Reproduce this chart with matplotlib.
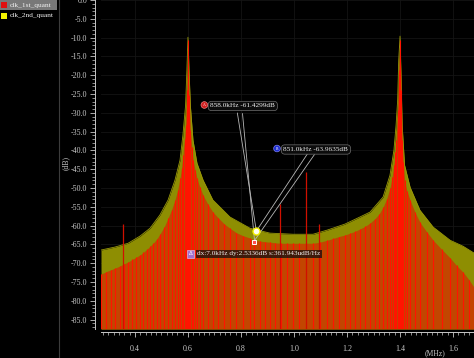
import matplotlib
matplotlib.use('Agg')
import matplotlib.pyplot as plt
from matplotlib.patches import Rectangle
from matplotlib.lines import Line2D
from matplotlib.ticker import MultipleLocator, FuncFormatter

plt.rcParams['axes.unicode_minus'] = False
FONT = 'Liberation Serif'

# ---------------- data ----------------
series_names = ['clk_1st_quant', 'clk_2nd_quant']
series_colors = ['#e01010', '#f2f200']

# clk_2nd_quant spectrum envelope (MHz, dB)
yel_f = [0.272, 0.325, 0.374, 0.419, 0.457, 0.494, 0.525, 0.551, 0.570, 0.581,
         0.591, 0.596, 0.600, 0.604, 0.609, 0.619, 0.634, 0.657, 0.694, 0.758,
         0.834, 0.909, 0.996, 1.072, 1.125, 1.192, 1.249, 1.287, 1.336, 1.362,
         1.377, 1.385, 1.391, 1.395, 1.400, 1.404, 1.408, 1.417, 1.438, 1.475,
         1.525, 1.589, 1.638, 1.679]
yel_db = [-66.5, -65.7, -64.7, -62.8, -60.7, -57.2, -53.2, -47.9, -42.6, -35.9,
          -28.0, -18.6, -9.9, -18.6, -28.0, -37.3, -43.4, -47.9, -53.2, -57.7,
          -60.7, -62.0, -62.3, -62.3, -61.2, -59.6, -57.7, -56.4, -52.4, -46.6,
          -39.9, -33.3, -26.6, -16.0, -9.6, -21.3, -33.3, -43.9, -49.8, -55.9,
          -60.4, -63.9, -65.5, -67.3]

# clk_1st_quant spectrum bins (MHz, dB)
red_f = [0.272, 0.290, 0.308, 0.325, 0.342, 0.358, 0.374, 0.390, 0.405, 0.419,
         0.432, 0.445, 0.457, 0.470, 0.482, 0.494, 0.510, 0.525, 0.538, 0.551,
         0.561, 0.570, 0.576, 0.581, 0.587, 0.591, 0.596, 0.600, 0.604, 0.609,
         0.614, 0.619, 0.627, 0.634, 0.645, 0.657, 0.675, 0.694, 0.715, 0.736,
         0.758, 0.783, 0.808, 0.834, 0.851, 0.870, 0.890, 0.909, 0.930, 0.952,
         0.974, 0.996, 1.020, 1.046, 1.072, 1.098, 1.125, 1.148, 1.170, 1.192,
         1.212, 1.231, 1.249, 1.268, 1.287, 1.305, 1.322, 1.336, 1.350, 1.362,
         1.370, 1.377, 1.382, 1.385, 1.391, 1.395, 1.400, 1.404, 1.408, 1.412,
         1.417, 1.426, 1.438, 1.456, 1.475, 1.500, 1.525, 1.557, 1.589, 1.613,
         1.638, 1.660, 1.679]
red_db = [-72.9, -72.3, -71.8, -71.3, -70.8, -70.2, -69.7, -69.0, -68.4, -67.8,
          -67.1, -66.3, -65.5, -64.6, -63.6, -62.3, -60.4, -58.0, -55.8, -53.2,
          -50.6, -47.4, -44.6, -41.3, -37.0, -33.3, -24.0, -10.7, -25.3, -34.6,
          -39.0, -42.6, -45.2, -47.4, -49.8, -51.9, -54.3, -56.4, -58.0, -59.5,
          -60.7, -61.9, -62.7, -63.3, -63.9, -64.1, -64.3, -64.4, -64.6, -64.7,
          -64.7, -64.7, -64.7, -64.7, -64.7, -64.4, -63.9, -63.4, -62.9, -62.5,
          -62.0, -61.5, -60.9, -60.2, -59.3, -58.2, -56.8, -55.1, -52.8, -50.0,
          -47.2, -43.9, -40.5, -37.3, -29.3, -18.6, -10.7, -24.0, -37.3, -43.0,
          -47.9, -50.8, -53.2, -56.4, -59.1, -61.6, -63.9, -66.3, -68.6, -70.6,
          -72.4, -74.4, -76.4]

# isolated spurs of clk_1st_quant
spur_f = [0.354, 0.947, 1.045, 1.094]
spur_db = [-59.6, -54.3, -45.8, -59.6]

# markers (MHz, dB)
marker_a = (0.858, -61.4299)
marker_b = (0.851, -63.9635)

x_range = (0.272, 1.679)
y_range = (-87.5, 0.0)

# ---------------- figure ----------------
W, H = 474, 358
fig = plt.figure(figsize=(W / 100, H / 100), dpi=100, facecolor='black')
ax = fig.add_axes([101 / W, 29 / H, (W - 101) / W, (H - 29) / H])
ax.set_facecolor('black')
ax.set_xlim(*x_range)
ax.set_ylim(*y_range)
ybot = y_range[0]

ax.grid(True, which='major', color='#141414', lw=0.6, zorder=0)
ax.set_axisbelow(True)

ax.fill_between(yel_f, ybot, yel_db, color='#8e8e02', lw=0, zorder=2)
ax.plot(yel_f, yel_db, color='#9a9a08', lw=0.6, zorder=2)
ax.fill_between(red_f, ybot, red_db, color='#c24600', lw=0, zorder=3)
ax.vlines(red_f, ybot, red_db, color='#ff1400', lw=0.8, zorder=4)
ax.vlines(spur_f, ybot, spur_db, color='#d01000', lw=0.9, zorder=4)

# axes styling
for s in ['top', 'right']:
    ax.spines[s].set_visible(False)
ax.spines['left'].set_position(('outward', 4.5))
ax.spines['bottom'].set_position(('outward', 2.2))
for s in ['left', 'bottom']:
    ax.spines[s].set_color('#c8c8c8')
    ax.spines[s].set_linewidth(0.7)

ax.xaxis.set_major_locator(MultipleLocator(0.2))
ax.xaxis.set_minor_locator(MultipleLocator(0.02))
ax.yaxis.set_major_locator(MultipleLocator(5))
ax.yaxis.set_minor_locator(MultipleLocator(1))
fmt = FuncFormatter(lambda v, p: f'{v:.1f}')
ax.xaxis.set_major_formatter(fmt)
ax.yaxis.set_major_formatter(fmt)
ax.tick_params(which='major', length=3.5, width=0.6, colors='#c8c8c8',
               labelsize=5.8, pad=2)
ax.tick_params(which='minor', length=2, width=0.5, colors='#c8c8c8')
ax.tick_params(axis='x', pad=6)
for lab in ax.get_xticklabels() + ax.get_yticklabels():
    lab.set_family(FONT)

fig.text(66 / W, 1 - 163 / H, '(dB)', rotation=90, color='#c8c8c8',
         fontsize=5.5, family=FONT, ha='center', va='center')
fig.text(435 / W, 1 - 353 / H, '(MHz)', color='#c8c8c8', fontsize=5.5,
         family=FONT, ha='center', va='center')

# legend panel
fig.add_artist(Rectangle((0, 1 - 10 / H), 57 / W, 10 / H,
                         transform=fig.transFigure, color='#787878', lw=0))
for i, (name, col) in enumerate(zip(series_names, series_colors)):
    yc = 5 + 11 * i
    fig.add_artist(Rectangle((1 / W, 1 - (yc + 3) / H), 6 / W, 6 / H,
                             transform=fig.transFigure, color=col, lw=0))
    fig.text(10 / W, 1 - yc / H, name, color='#f0f0f0', fontsize=5.3,
             family=FONT, va='center', ha='left')
fig.add_artist(Line2D([58.5 / W, 58.5 / W], [0, 1], transform=fig.transFigure,
                      color='#3c3c3c', lw=0.8))

# markers
ax.plot(*marker_a, marker='o', ms=5, mfc='#fffff0', mec='#f0f000', mew=1.0, zorder=6)
ax.plot(marker_b[0], marker_b[1] - 0.4, marker='s', ms=3.5, mfc='#ff5050',
        mec='#ffffff', mew=0.7, zorder=6)

line_kw = dict(arrowstyle='-', color='#b8b8b8', lw=0.6, shrinkA=0, shrinkB=0)
ax.annotate('', xy=marker_a, xytext=(-19, 118), textcoords='offset pixels',
            arrowprops=line_kw, zorder=5)
ax.annotate('', xy=marker_b, xytext=(-12, 127), textcoords='offset pixels',
            arrowprops=line_kw, zorder=5)
ax.annotate('', xy=marker_a, xytext=(51, 77), textcoords='offset pixels',
            arrowprops=line_kw, zorder=5)
ax.annotate('', xy=marker_b, xytext=(60, 86), textcoords='offset pixels',
            arrowprops=line_kw, zorder=5)

box_kw = dict(boxstyle='round,pad=0.3,rounding_size=0.5', fc='#0c0c0c',
              ec='#707070', lw=0.5)
ax.annotate(f'{marker_a[0] * 1000:.1f}kHz {marker_a[1]:.4f}dB', xy=marker_a,
            xytext=(-46, 125), textcoords='offset pixels', fontsize=5.2,
            family=FONT, color='#f0f0f0', ha='left', va='center',
            bbox=box_kw, zorder=7)
ax.annotate('A', xy=marker_a, xytext=(-52, 126), textcoords='offset pixels',
            fontsize=2.8, color='white', ha='center', va='center', family=FONT,
            bbox=dict(boxstyle='circle,pad=0.35', fc='#d02020', ec='#ff9090', lw=0.4),
            zorder=8)
ax.annotate(f'{marker_b[0] * 1000:.1f}kHz {marker_b[1]:.4f}dB', xy=marker_b,
            xytext=(29, 91), textcoords='offset pixels', fontsize=5.2,
            family=FONT, color='#f0f0f0', ha='left', va='center',
            bbox=box_kw, zorder=7)
ax.annotate('B', xy=marker_b, xytext=(22.5, 92), textcoords='offset pixels',
            fontsize=2.8, color='white', ha='center', va='center', family=FONT,
            bbox=dict(boxstyle='circle,pad=0.35', fc='#2030d0', ec='#9090ff', lw=0.4),
            zorder=8)

dx_khz = (marker_a[0] - marker_b[0]) * 1000
dy_db = marker_a[1] - marker_b[1]
slope = dy_db / (dx_khz * 1000) * 1e6
delta_txt = f'dx:{dx_khz:.1f}kHz dy:{dy_db:.4f}dB s:{slope:.3f}udB/Hz'
ax.annotate(delta_txt, xy=marker_a, xytext=(-59, -23), textcoords='offset pixels',
            fontsize=5.2, family=FONT, color='#f0f0f0', ha='left', va='center',
            bbox=dict(boxstyle='square,pad=0.2', fc='#101010', ec='none', alpha=0.75),
            zorder=7)
ax.annotate('\u0394', xy=marker_a, xytext=(-66, -23), textcoords='offset pixels',
            fontsize=4, color='white', ha='center', va='center',
            bbox=dict(boxstyle='square,pad=0.25', fc='#a070d0', ec='#e0d0ff', lw=0.4),
            zorder=8)

fig.savefig('out.png', dpi=100, facecolor='black')
